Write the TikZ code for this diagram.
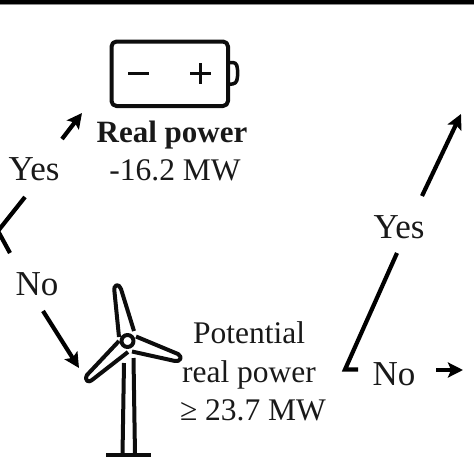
\documentclass[tikz,border=0pt]{standalone}
\usepackage{fontspec}
\setmainfont{Liberation Serif}
\usetikzlibrary{arrows.meta}
\tikzset{
 lbl/.style={inner sep=0pt,anchor=base,font=\fontsize{31.5}{36}\selectfont,text=black!90},
 big/.style={font=\fontsize{35}{40}\selectfont},
 conn/.style={line width=4.2pt,draw=black},
 arr/.style={conn,-{Stealth[length=15pt,width=15pt,inset=3pt]}},
 icon/.style={line width=4pt,draw=black!95,line join=round},
}
\begin{document}
\begin{tikzpicture}[x=1pt,y=-1pt]
\useasboundingbox (0,0) rectangle (474,474);
\fill[black] (0,0) rectangle (474,3.5);
\fill[black!45] (0,3.5) rectangle (474,4.5);
% battery
\draw[icon,rounded corners=5pt] (111.5,41.5) rectangle (228,106);
\draw[icon,line width=3.5pt,rounded corners=3pt] (228,62.5) -- (236,62.5) .. controls (238,70) and (238,76) .. (236,83.5) -- (228,84.5);
\draw[icon,line width=3pt] (128,73.5) -- (149,73.5);
\draw[icon,line width=3pt] (190,73.5) -- (211,73.5) (200.5,63) -- (200.5,84);
% labels
\node[lbl,font=\fontsize{31}{36}\selectfont\bfseries] (rp) at (172,142) {Real power};
\node[lbl] (val) at (175,180) {-16.2 MW};
\node[lbl,big] (y1) at (34,180) {Yes};
\node[lbl,big] (n1) at (37,295) {No};
\node[lbl] (pot) at (249,343) {Potential};
\node[lbl] (rpw) at (249,382) {real power};
\node[lbl] (ge) at (253,420) {≥ 23.7 MW};
\node[lbl,big] (y2) at (399,238) {Yes};
\node[lbl,big] (n2) at (394,385) {No};
% connectors
\coordinate (a1) at (62,139); \coordinate (a2) at (82,113);
\coordinate (b1) at (25,197); \coordinate (b2) at (-2,231); \coordinate (b3) at (10,253);
\coordinate (c1) at (43,311); \coordinate (c2) at (79,368);
\coordinate (d1) at (397,253); \coordinate (d2) at (345,369.5); \coordinate (d3) at (358,369.5);
\coordinate (e1) at (422,196); \coordinate (e2) at (461,114);
\coordinate (f1) at (436,370); \coordinate (f2) at (463,370);
\draw[arr] (a1) -- (a2);
\draw[conn] (b1) -- (b2) -- (b3);
\draw[arr] (c1) -- (c2);
\draw[conn,line join=miter] (d1) -- (d2) -- (d3);
\draw[arr] (e1) -- (e2);
\draw[arr] (f1) -- (f2);
% turbine
\draw[icon] (127.5,341) circle (6);
\draw[icon] (119,337) -- (114.5,292) .. controls (113,284) and (119,283) .. (121,289) -- (134,331);
\draw[icon] (119,341) -- (87,375) .. controls (84,381) and (89,383) .. (92,380) -- (128,352);
\draw[icon] (136,336.5) -- (178,354) .. controls (183,357) and (180,362) .. (175,361) -- (132,351.5);
\draw[icon] (124,363) -- (122.5,455);
\draw[icon] (133.5,358) -- (135,455);
\draw[icon] (106,455) -- (151,455);
\end{tikzpicture}
\end{document}
